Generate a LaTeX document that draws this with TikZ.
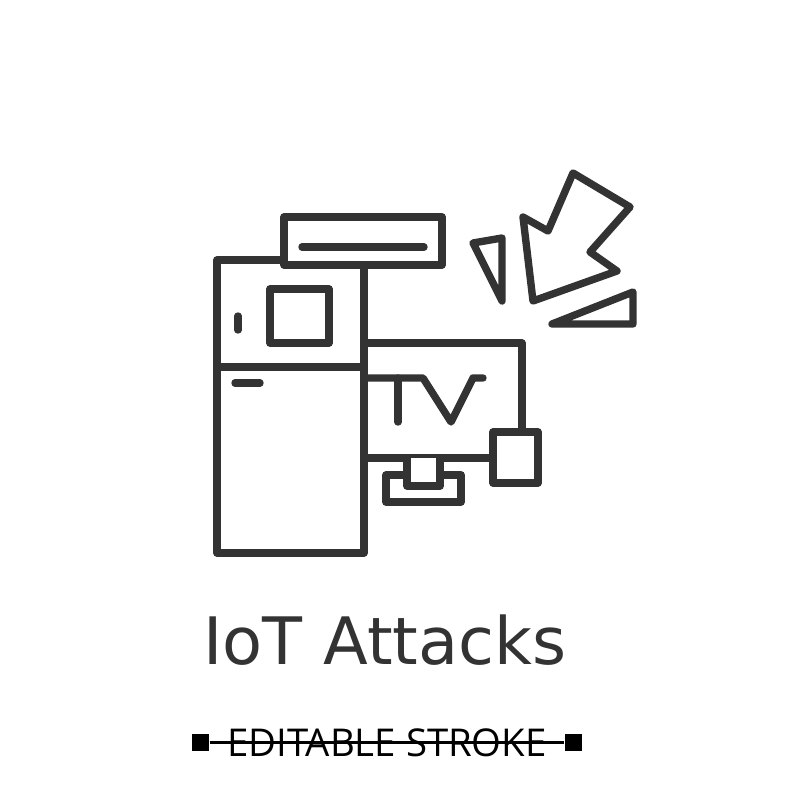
\documentclass[tikz,border=0pt]{standalone}
\usepackage{fontspec}
\usepackage{tikz}
\usetikzlibrary{positioning}
\setmainfont{DejaVu Sans}
\newfontfamily\strokefont{Open Sans}
\definecolor{iconblack}{HTML}{333333}

\begin{document}
\begin{tikzpicture}[x=0.01cm, y=-0.01cm, node distance=0.3cm]
\tikzstyle{outline} = [draw=iconblack, line width=2.1pt, line join=round, line cap=round]
\tikzstyle{panel} = [outline, fill=white]
\tikzstyle{endsquare} = [rectangle, fill=black, minimum width=0.17cm, minimum height=0.17cm, inner sep=0pt]

\useasboundingbox (0,0) rectangle (800,800);

\draw[outline] (364,343) -- (522,343) -- (522,430);
\draw[outline] (364,458) -- (495,458);
\draw[outline] (364,378) -- (423,378) -- (451,422) -- (473,378) -- (483,378);
\draw[outline] (398,378) -- (398,422);
\draw[panel] (386,475) rectangle (461,502);
\draw[panel] (407,458) -- (407,486) -- (440,486) -- (440,458);
\draw[panel] (493,432) rectangle (538,483);

\draw[panel] (217,260) rectangle (364,553);
\draw[outline] (217,367) -- (364,367);
\draw[outline] (270,289) rectangle (329,343);
\draw[outline] (238,316) -- (238,330);
\draw[outline] (235,383) -- (260,383);

\draw[panel] (284,217) rectangle (442,265);
\draw[outline] (302,247) -- (424,247);

\draw[outline] (573,173) -- (630,207) -- (590,252) -- (617,271) -- (533,301) -- (523,217) -- (548,231) -- cycle;
\draw[outline] (473,243) -- (502,238) -- (502,301) -- cycle;
\draw[outline] (633,292) -- (633,324) -- (552,324) -- cycle;

\node (title) [text=iconblack, font=\fontsize{18.6}{20}\selectfont, inner sep=0pt] at (385,640) {IoT Attacks};

\node (leftsquare) [endsquare] at (200.5,742.5) {};
\node (rightsquare) [endsquare] at (573,742.5) {};
\node (editable) [font=\strokefont\fontsize{10.9}{12}\selectfont, text=black, inner sep=0pt] at (387,743) {EDITABLE STROKE};
\draw[black, line width=1.1pt] (leftsquare) -- (rightsquare);

\end{tikzpicture}
\end{document}
